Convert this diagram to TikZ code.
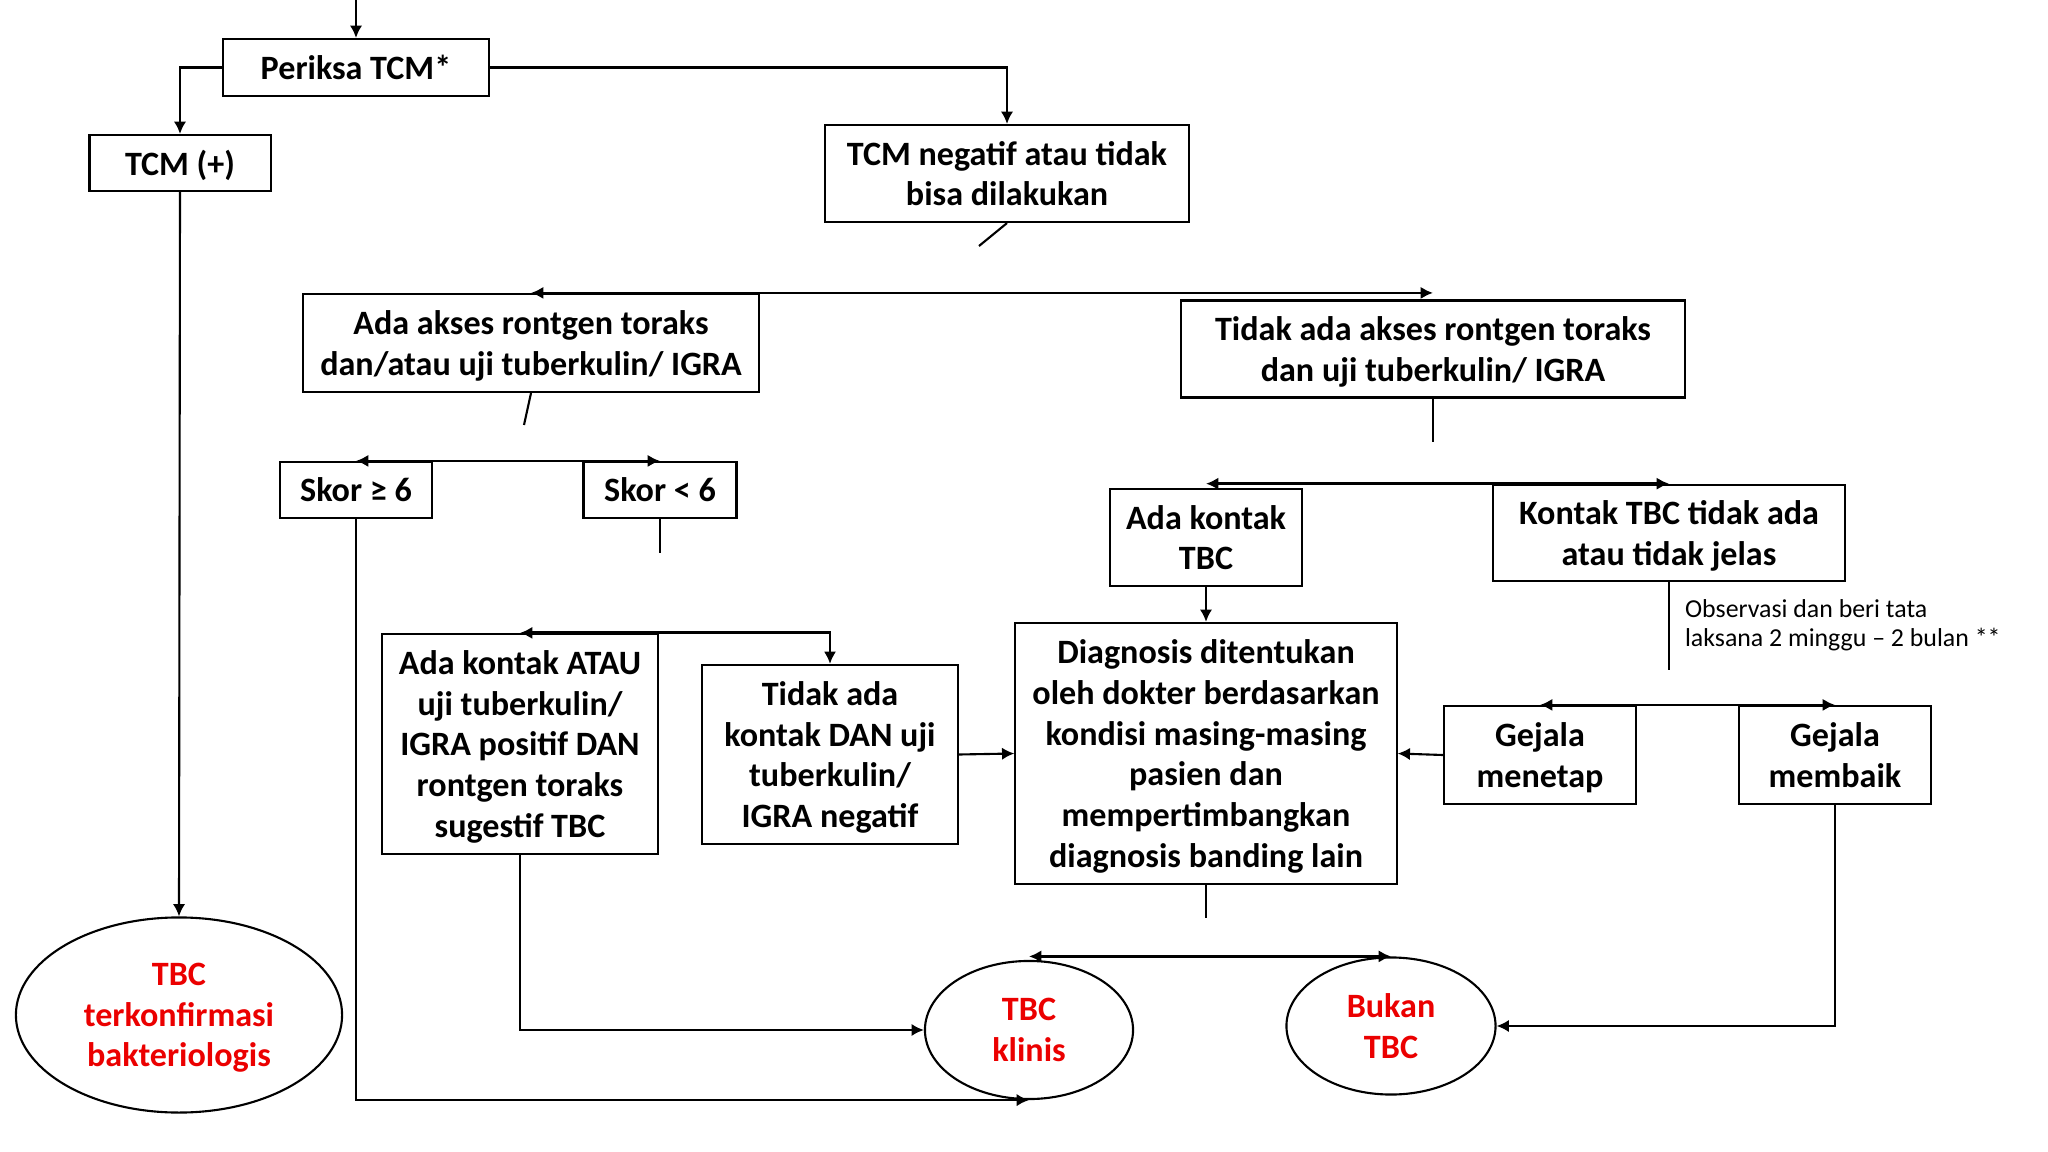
\documentclass[tikz,border=0pt]{standalone}
\usepackage{fontspec}
\setmainfont{Carlito}
\usepackage{tikz}
\usetikzlibrary{shapes.geometric,arrows.meta}
\definecolor{tbc-red}{RGB}{235,0,0}

\tikzset{
	kotak/.style={draw, align=center, inner sep=0pt, text depth=0pt, font=\bfseries\fontsize{9.7}{11.6}\selectfont},
	bulat/.style={draw, ellipse, align=center, inner sep=0pt, text depth=0pt, text=tbc-red, font=\bfseries\fontsize{9.7}{11.6}\selectfont},
	catatan/.style={align=left, inner sep=0pt, anchor=north west, font=\fontsize{7.35}{8.5}\selectfont},
}

\begin{document}
\begin{tikzpicture}[x=0.01cm, y=-0.01cm, line width=0.6pt, >={Latex[length=3.5pt,width=3.5pt]}]

			\useasboundingbox (0,0) rectangle (2048,1152);

			\node[kotak, minimum width=2.66cm, minimum height=0.57cm] (periksa) at (356,67.5) {Periksa TCM*};
			\node[kotak, minimum width=1.81cm, minimum height=0.56cm] (tcmpos) at (180,163) {TCM (+)};
			\node[kotak, minimum width=3.63cm, minimum height=0.97cm] (tcmneg) at (1007,173.5) {TCM negatif atau tidak\\bisa dilakukan};

			\node[kotak, minimum width=4.55cm, minimum height=0.98cm] (akses) at (531,343) {Ada akses rontgen toraks\\dan/atau uji tuberkulin/ IGRA};
			\node[kotak, minimum width=5.04cm, minimum height=0.97cm] (tidakakses) at (1433,349) {Tidak ada akses rontgen toraks\\dan uji tuberkulin/ IGRA};

			\node[kotak, minimum width=1.52cm, minimum height=0.56cm] (skor6) at (356,490) {Skor ≥ 6};
			\node[kotak, minimum width=1.53cm, minimum height=0.56cm] (skor5) at (660,490) {Skor < 6};
			\node[kotak, minimum width=1.92cm, minimum height=0.97cm] (kontak) at (1206,537.5) {Ada kontak\\TBC};
			\node[kotak, minimum width=3.52cm, minimum height=0.965cm] (tidakjelas) at (1669,533) {Kontak TBC tidak ada\\atau tidak jelas};
			\node[catatan] (observasi) at (1684,598) {Observasi dan beri tata\\laksana 2 minggu – 2 bulan **};

			\node[kotak, minimum width=2.75cm, minimum height=2.20cm] (atau) at (520,744) {Ada kontak ATAU\\uji tuberkulin/\\IGRA positif DAN\\rontgen toraks\\sugestif TBC};
			\node[kotak, minimum width=2.56cm, minimum height=1.79cm] (tidakkontak) at (830,754.5) {Tidak ada\\kontak DAN uji\\tuberkulin/\\IGRA negatif};
			\node[kotak, minimum width=3.81cm, minimum height=2.61cm] (diagnosis) at (1206,753.5) {Diagnosis ditentukan\\oleh dokter berdasarkan\\kondisi masing-masing\\pasien dan\\mempertimbangkan\\diagnosis banding lain};
			\node[kotak, minimum width=1.92cm, minimum height=0.98cm] (menetap) at (1540,755) {Gejala\\menetap};
			\node[kotak, minimum width=1.92cm, minimum height=0.98cm] (membaik) at (1835,755) {Gejala\\membaik};

			\node[bulat, minimum width=3.26cm, minimum height=1.95cm] (konfirm) at (179,1015) {TBC\\terkonfirmasi\\bakteriologis};
			\node[bulat, minimum width=2.08cm, minimum height=1.38cm] (klinis) at (1029,1030) {TBC\\klinis};
			\node[bulat, minimum width=2.09cm, minimum height=1.37cm] (bukan) at (1391,1026) {Bukan\\TBC};

			\coordinate (mulai) at (356,0);
			\coordinate (ujung1) at (979,246);
			\coordinate (ujung2) at (524,425);
			\coordinate (ujung3) at (1433,442);
			\coordinate (ujung4) at (660,553);
			\coordinate (ujung5) at (1669,670);
			\coordinate (ujung6) at (1206,918);

			\draw[->] (mulai) -- (periksa.north);
			\draw[->] (periksa.west) -| (tcmpos.north);
			\draw[->] (periksa.east) -| (tcmneg.north);
			\draw[->] (tcmpos.south) -- (konfirm.north);
			\draw (tcmneg.south) -- (ujung1);

			\draw[<->, line width=0.8pt] (akses.north) -- (akses.north -| tidakakses.north);
			\draw (akses.south) -- (ujung2);
			\draw (tidakakses.south) -- (ujung3);

			\draw[<->, line width=0.8pt] (skor6.north) -- (skor5.north);
			\draw (skor5.south) -- (ujung4);
			\draw[->] (skor6.south) |- (klinis.south);

			\draw[<->, line width=0.8pt] (kontak.north |- tidakjelas.north) -- (tidakjelas.north);
			\draw[->] (kontak.south) -- (diagnosis.north);
			\draw (tidakjelas.south) -- (ujung5);

			\draw[<->, line width=0.8pt] (atau.north) -| (tidakkontak.north);
			\draw[->] (atau.south) |- (klinis.west);
			\draw[->] (tidakkontak.east) -- (diagnosis.west);

			\draw[<->, line width=0.8pt] (menetap.north) -- (membaik.north);
			\draw[->] (menetap.west) -- (diagnosis.east);
			\draw[->] (membaik.south) |- (bukan.east);

			\draw (diagnosis.south) -- (ujung6);
			\draw[<->, line width=0.8pt] (klinis.north |- bukan.north) -- (bukan.north);

		\end{tikzpicture}
\end{document}
